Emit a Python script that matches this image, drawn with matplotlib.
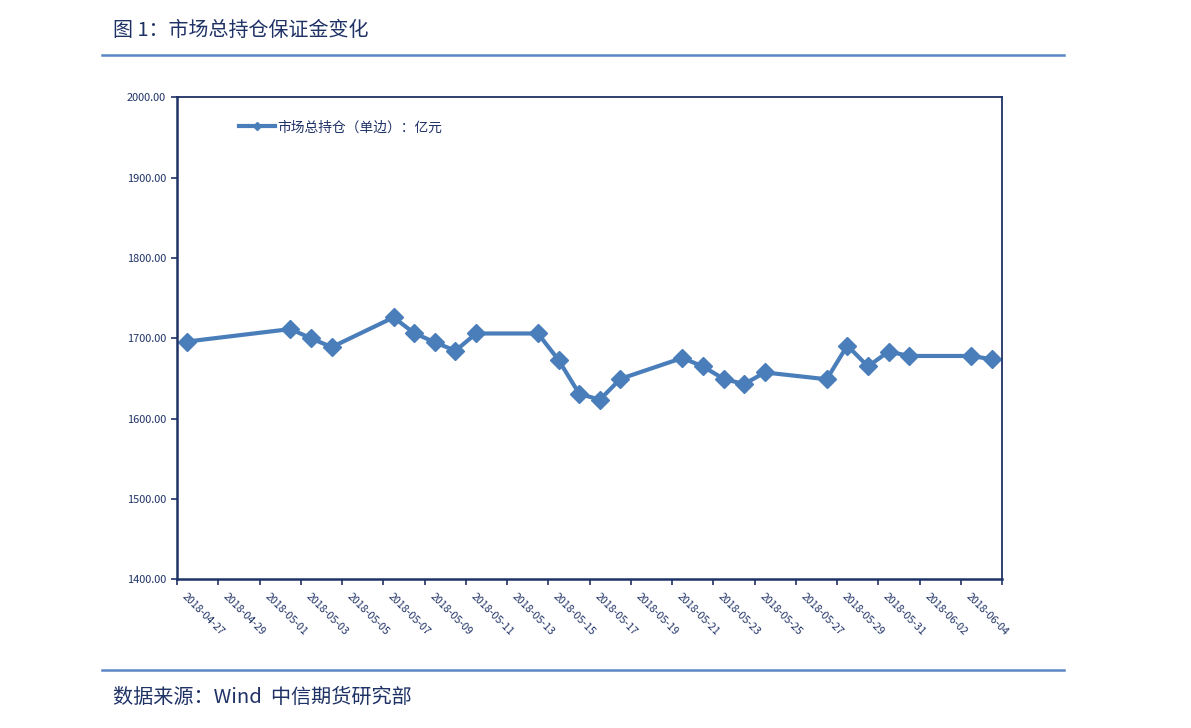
import matplotlib.pyplot as plt
import pandas as pd

plt.rcParams['font.family'] = ['Noto Sans CJK SC', 'DejaVu Sans']

dates = ['2018-04-27', '2018-05-02', '2018-05-03', '2018-05-04', '2018-05-07',
         '2018-05-08', '2018-05-09', '2018-05-10', '2018-05-11', '2018-05-14',
         '2018-05-15', '2018-05-16', '2018-05-17', '2018-05-18', '2018-05-21',
         '2018-05-22', '2018-05-23', '2018-05-24', '2018-05-25', '2018-05-28',
         '2018-05-29', '2018-05-30', '2018-05-31', '2018-06-01', '2018-06-04',
         '2018-06-05']
margin = [1696, 1711.5, 1700, 1689, 1726,
          1706.5, 1695, 1684.5, 1706, 1706,
          1673, 1631, 1623.5, 1649.5, 1675.5,
          1665, 1649.5, 1643, 1657.5, 1649,
          1691, 1665, 1683.5, 1678, 1678,
          1674]
yticks = [1400, 1500, 1600, 1700, 1800, 1900, 2000]

navy = '#1F3266'
blue = '#4A7EBB'
rule = '#5B87C5'

start = pd.Timestamp('2018-04-27')
days = [(pd.Timestamp(d) - start).days for d in dates]
label_days = list(range(0, 39, 2))
label_text = [(start + pd.Timedelta(days=d)).strftime('%Y-%m-%d') for d in label_days]

fig = plt.figure(figsize=(11.91, 7.28), dpi=100)
ax = fig.add_axes([177 / 1191, 1 - 579.3 / 728, 825 / 1191, 482 / 728])

ax.plot(days, margin, color=blue, lw=3, marker='D', ms=9.5, label='市场总持仓（单边）：亿元')

ax.set_xlim(-0.5, 39.5)
ax.set_ylim(1400, 2000)
ax.set_yticks(yticks)
ax.set_yticklabels(['%.2f' % v for v in yticks])

# tick marks on day boundaries, labels on day centres
ax.set_xticks([d - 0.5 for d in range(0, 41, 2)], minor=True)
ax.set_xticks(label_days)
ax.set_xticklabels(label_text, rotation=-45, ha='left', va='top', rotation_mode='anchor')
ax.tick_params(axis='x', which='major', length=0, pad=9, labelsize=7.7, labelcolor=navy)
ax.tick_params(axis='x', which='minor', length=4, width=1.2, color=navy)
ax.tick_params(axis='y', length=4, width=1.2, color=navy, labelsize=7.9, labelcolor=navy, pad=4)

for side in ['left', 'bottom']:
    ax.spines[side].set_color(navy)
    ax.spines[side].set_linewidth(1.8)
for side in ['top', 'right']:
    ax.spines[side].set_color(navy)
    ax.spines[side].set_linewidth(1.3)

leg = ax.legend(loc='upper left', bbox_to_anchor=(0.06, 0.978), frameon=False,
                fontsize=9.9, handlelength=2.6, markerscale=0.4, handletextpad=0.2)
for t in leg.get_texts():
    t.set_color(navy)

fig.text(113 / 1191, 1 - 30 / 728, '图 1：市场总持仓保证金变化', fontsize=14.4,
         color=navy, va='center', ha='left')
fig.text(113 / 1191, 1 - 697 / 728, '数据来源：Wind  中信期货研究部', fontsize=14.5,
         color=navy, va='center', ha='left')
fig.add_artist(plt.Line2D([102 / 1191, 1064 / 1191], [1 - 55 / 728] * 2, color=rule, lw=1.8))
fig.add_artist(plt.Line2D([102 / 1191, 1064 / 1191], [1 - 670 / 728] * 2, color=rule, lw=1.8))

plt.savefig('out.png', dpi=100)
